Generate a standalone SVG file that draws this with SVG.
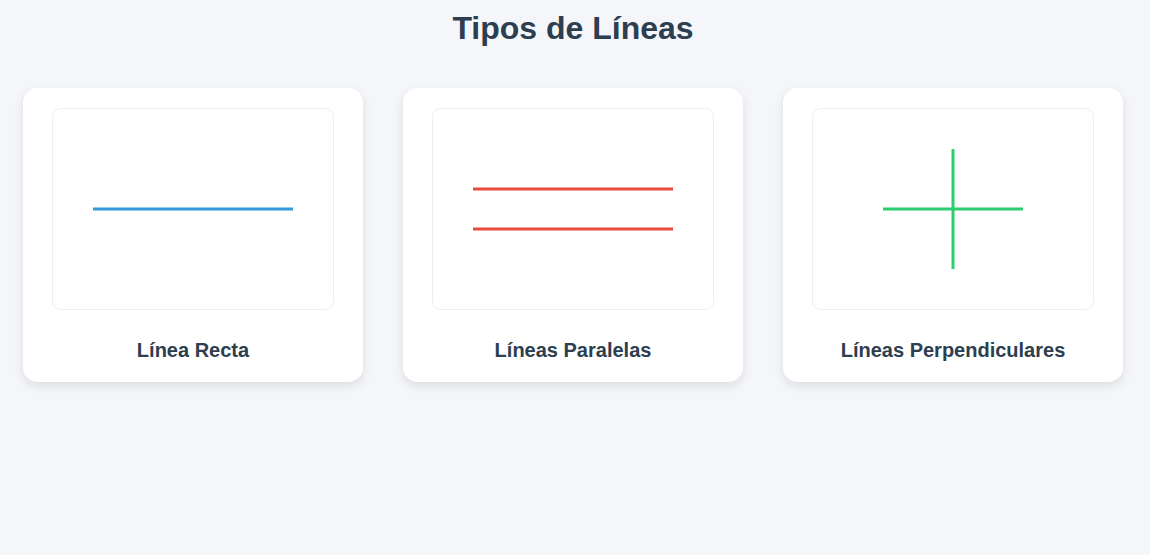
<svg xmlns="http://www.w3.org/2000/svg" width="1150" height="555" viewBox="0 0 1150 555">
  <defs>
    <filter id="shadow" x="-10%" y="-10%" width="120%" height="130%">
      <feDropShadow dx="0" dy="4" stdDeviation="5" flood-color="#000" flood-opacity="0.1"/>
    </filter>
  </defs>
  <style>
    .card { fill: #ffffff; filter: url(#shadow); }
    .frame { fill: #ffffff; stroke: #eeeeee; stroke-width: 1; }
    .label { font-family: "Liberation Sans", Arial, sans-serif; font-weight: bold; font-size: 20px; fill: #2c3e50; text-anchor: middle; }
    .title { font-family: "Liberation Sans", Arial, sans-serif; font-weight: bold; font-size: 32px; fill: #2c3e50; text-anchor: middle; }
    .ln { stroke-width: 3; fill: none; }
  </style>
  <rect width="1150" height="555" fill="#f5f6fa"/>
  <text class="title" x="573" y="39">Tipos de Líneas</text>

  <g id="card-recta">
    <rect class="card" x="23" y="88" width="340" height="294" rx="15"/>
    <rect class="frame" x="52.5" y="108.5" width="281" height="201" rx="8"/>
    <line class="ln" x1="93" y1="209" x2="293" y2="209" stroke="#3498db"/>
    <text class="label" x="193" y="357">Línea Recta</text>
  </g>

  <g id="card-paralelas">
    <rect class="card" x="403" y="88" width="340" height="294" rx="15"/>
    <rect class="frame" x="432.5" y="108.5" width="281" height="201" rx="8"/>
    <line class="ln" x1="473" y1="189" x2="673" y2="189" stroke="#e74c3c"/>
    <line class="ln" x1="473" y1="229" x2="673" y2="229" stroke="#e74c3c"/>
    <text class="label" x="573" y="357">Líneas Paralelas</text>
  </g>

  <g id="card-perpendiculares">
    <rect class="card" x="783" y="88" width="340" height="294" rx="15"/>
    <rect class="frame" x="812.5" y="108.5" width="281" height="201" rx="8"/>
    <line class="ln" x1="883" y1="209" x2="1023" y2="209" stroke="#2ecc71"/>
    <line class="ln" x1="953" y1="149" x2="953" y2="269" stroke="#2ecc71"/>
    <text class="label" x="953" y="357">Líneas Perpendiculares</text>
  </g>

  <g id="connectors"/>
</svg>
